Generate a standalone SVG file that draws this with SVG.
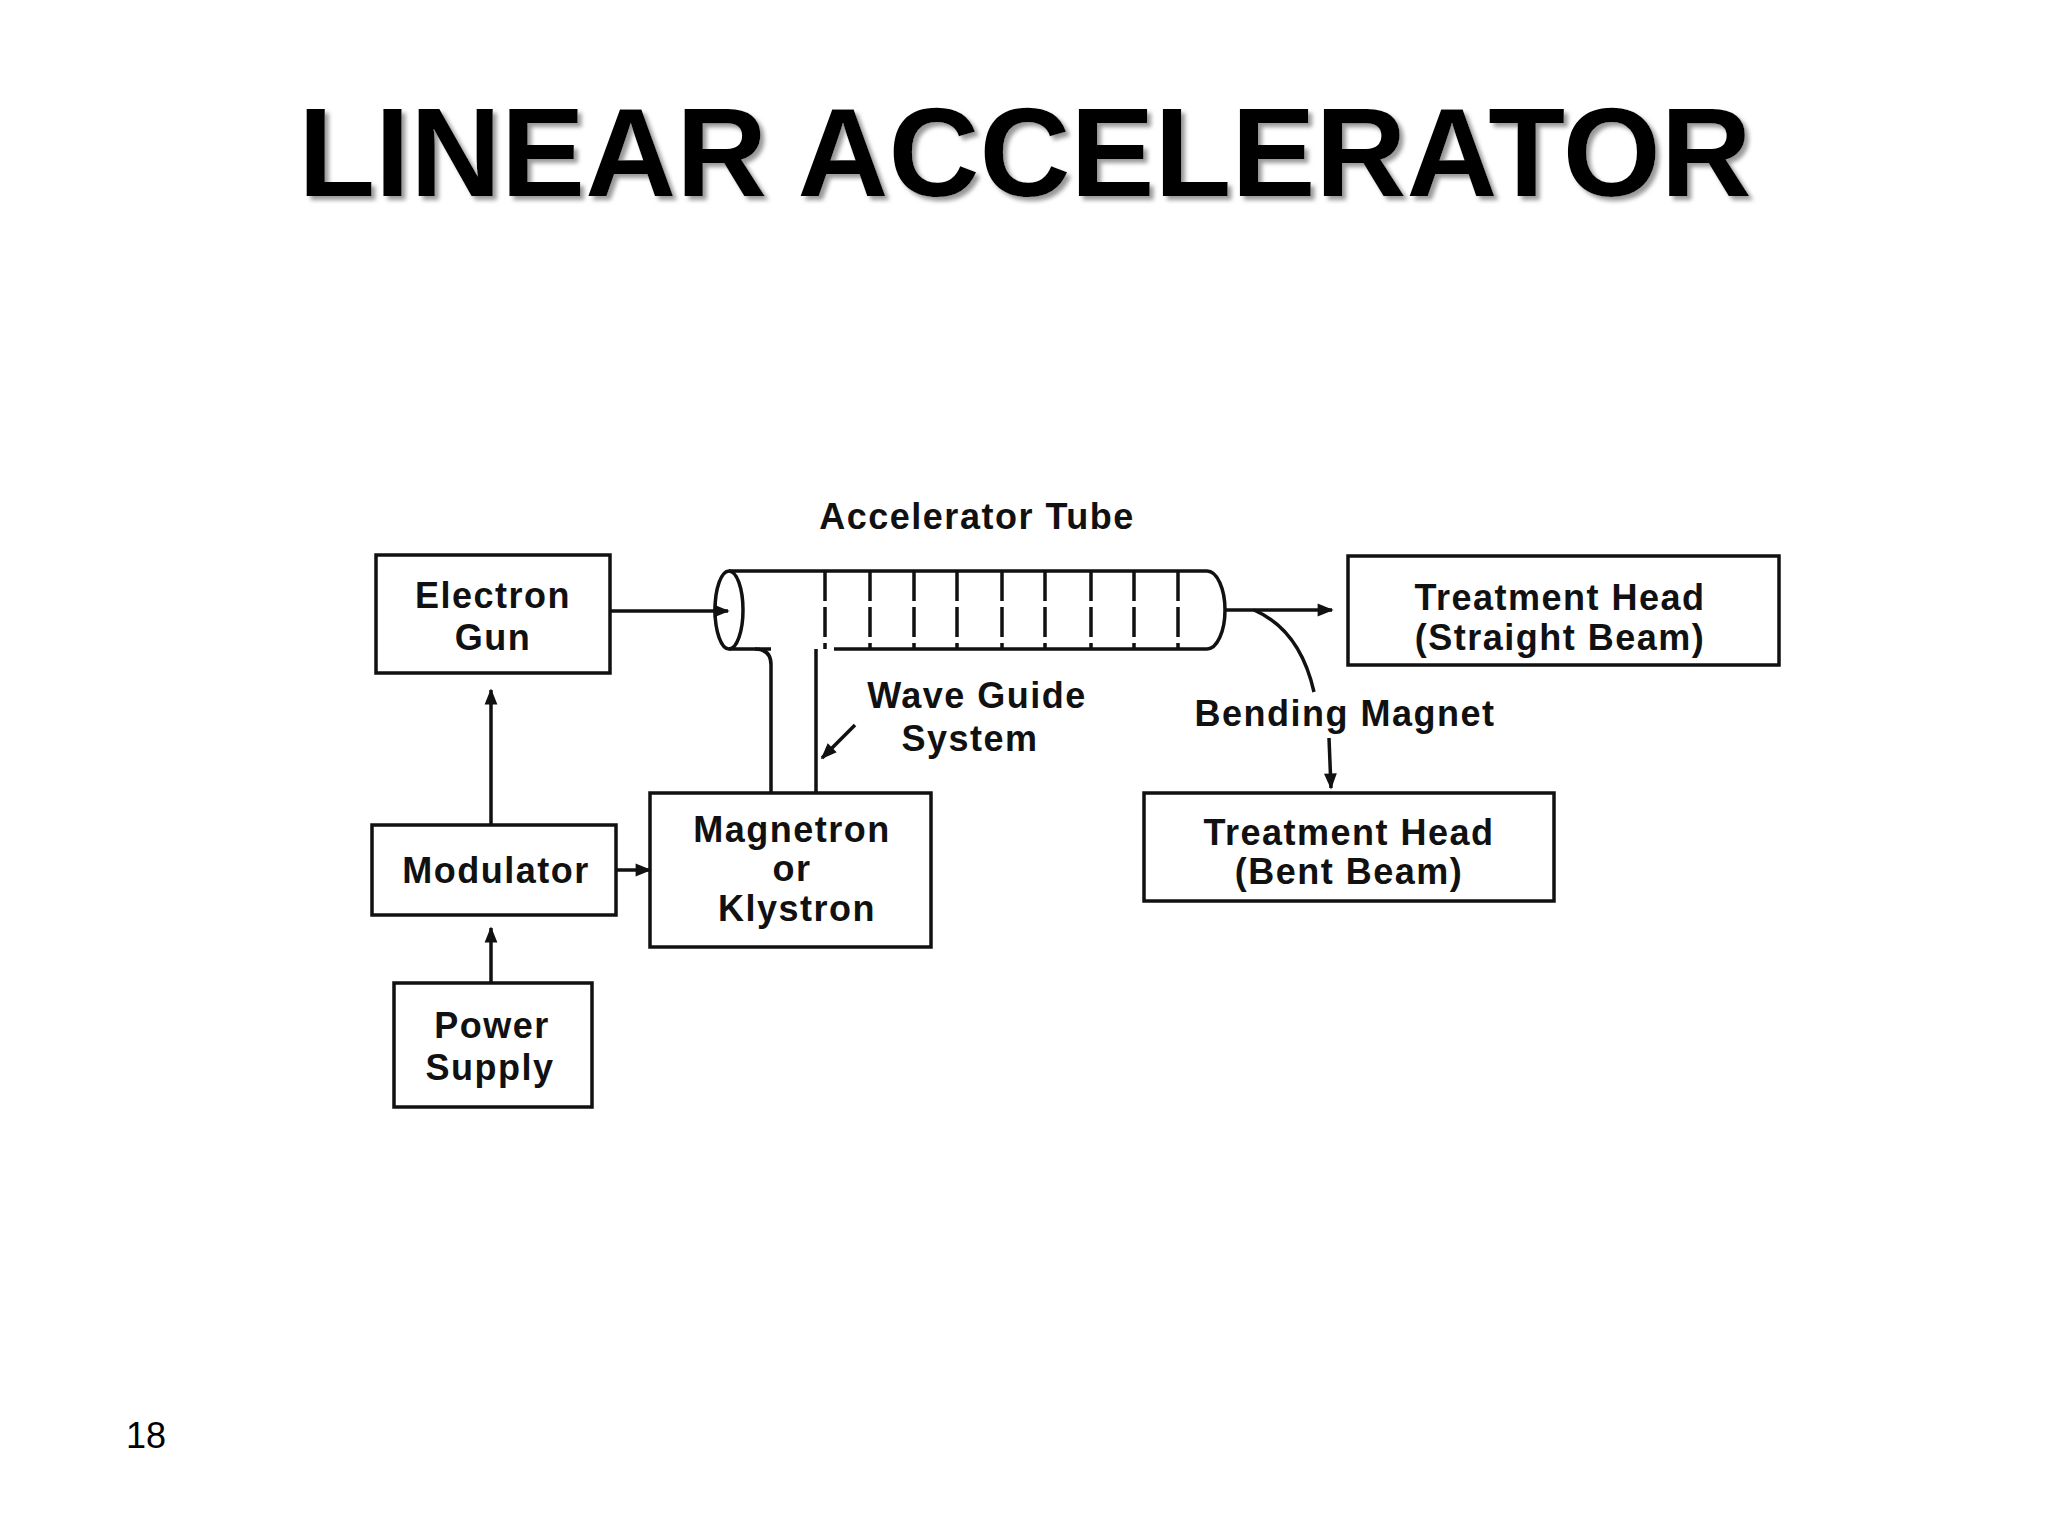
<svg xmlns="http://www.w3.org/2000/svg" width="2048" height="1536" viewBox="0 0 2048 1536">
<defs>
<marker id="ah2" viewBox="0 0 10 10" refX="9" refY="5" markerWidth="22" markerHeight="16" markerUnits="userSpaceOnUse" orient="auto"><path d="M0,1 L10,5 L0,9 z" fill="#111"/></marker>
<filter id="sh"><feDropShadow dx="4" dy="4" stdDeviation="2" flood-color="#999"/></filter>
</defs>
<style>
.b{fill:#fff;stroke:#111;stroke-width:3.5}
.t{font-family:"Liberation Sans",Arial,sans-serif;font-weight:bold;font-size:36px;fill:#111;text-anchor:middle;letter-spacing:1.5px}
.c{fill:none;stroke:#111;stroke-width:3.5}
</style>
<rect width="2048" height="1536" fill="#fff"/>
<text x="1025" y="196" font-family="Liberation Sans,Arial,sans-serif" font-weight="bold" font-size="126" text-anchor="middle" fill="#000" filter="url(#sh)">LINEAR ACCELERATOR</text>
<text x="146" y="1448" font-family="Liberation Sans,Arial,sans-serif" font-size="36" text-anchor="middle" fill="#000">18</text>
<g id="tube">
<path class="c" d="M729,571 L1207,571 A18,39 0 0 1 1207,649 L834,649 M771,649 L729,649"/>
<ellipse class="c" cx="729" cy="610" rx="14" ry="39"/>
<path class="c" d="M825,571V649M870,571V649M914,571V649M957,571V649M1002,571V649M1045,571V649M1091,571V649M1134,571V649M1178,571V649" stroke-width="2.5" stroke-dasharray="30,6"/>
<text class="t" x="977" y="529">Accelerator Tube</text>
</g>
<g id="waveguide">
<path class="c" d="M771,793 V665 Q771,649 755,649 M816,793 V649"/>
<text class="t" x="977" y="708">Wave Guide</text>
<text class="t" x="970" y="751">System</text>
</g>
<g id="electron-gun"><rect class="b" x="376" y="555" width="234" height="118"/><text class="t" x="493" y="608">Electron</text><text class="t" x="493" y="650">Gun</text></g>
<g id="modulator"><rect class="b" x="372" y="825" width="244" height="90"/><text class="t" x="496" y="883">Modulator</text></g>
<g id="power-supply"><rect class="b" x="394" y="983" width="198" height="124"/><text class="t" x="492" y="1038">Power</text><text class="t" x="490" y="1080">Supply</text></g>
<g id="magnetron"><rect class="b" x="650" y="793" width="281" height="154"/><text class="t" x="792" y="842">Magnetron</text><text class="t" x="792" y="881">or</text><text class="t" x="797" y="921">Klystron</text></g>
<g id="head-straight"><rect class="b" x="1348" y="556" width="431" height="109"/><text class="t" x="1560" y="610">Treatment Head</text><text class="t" x="1560" y="650">(Straight  Beam)</text></g>
<g id="head-bent"><rect class="b" x="1144" y="793" width="410" height="108"/><text class="t" x="1349" y="845">Treatment Head</text><text class="t" x="1349" y="884">(Bent Beam)</text></g>
<text class="t" x="1345" y="726">Bending  Magnet</text>
<g id="connectors">
<line class="c" x1="610" y1="611" x2="728" y2="611" stroke-width="4.5" marker-end="url(#ah2)"/>
<line class="c" x1="1225" y1="610" x2="1332" y2="610" stroke-width="4.5" marker-end="url(#ah2)"/>
<path class="c" d="M1254,610 Q1300,630 1314,692"/>
<line class="c" x1="1329" y1="738" x2="1331" y2="788" stroke-width="3" marker-end="url(#ah2)"/>
<line class="c" x1="491" y1="825" x2="491" y2="690" stroke-width="3" marker-end="url(#ah2)"/>
<line class="c" x1="491" y1="983" x2="491" y2="928" stroke-width="3" marker-end="url(#ah2)"/>
<line class="c" x1="616" y1="870" x2="650" y2="870" stroke-width="3" marker-end="url(#ah2)"/>
<line class="c" x1="855" y1="725" x2="822" y2="758" stroke-width="3" marker-end="url(#ah2)"/>
</g>
</svg>
